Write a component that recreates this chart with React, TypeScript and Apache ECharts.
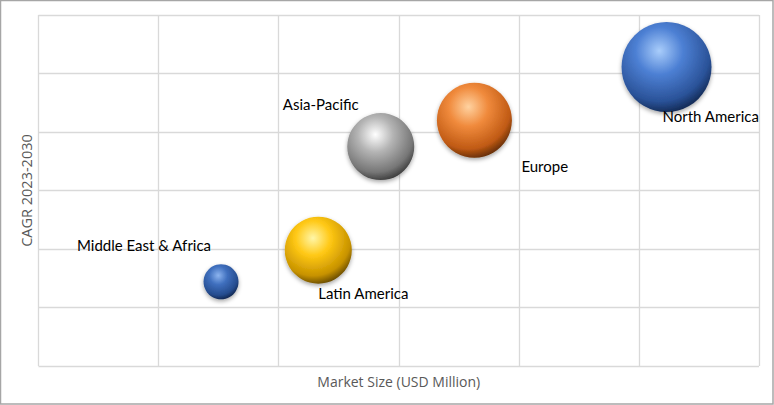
import React, { useEffect, useRef } from "react";
import * as echarts from "echarts";

const regions = ["North America", "Europe", "Asia-Pacific", "Latin America", "Middle East & Africa"];
const marketSize = [5.23, 3.63, 2.85, 2.33, 1.52];
const cagr = [5.11, 4.2, 3.75, 1.98, 1.44];
const bubbleWeight = [90, 75, 67, 67, 35];

const palette = [
  ["#a9cdfb", "#4d80d4", "#2a5298", "#0a1a3a"],
  ["#ffd2a0", "#f08a3c", "#c05a14", "#401c00"],
  ["#ffffff", "#b4b4b4", "#767676", "#262626"],
  ["#fff6a8", "#ffc814", "#c79200", "#443000"],
  ["#8cb4ef", "#3f6fbe", "#254c8e", "#0a1838"],
];
const labelOffsets = [
  [-4, 49],
  [47, 46],
  [-98, -43],
  [0, 43],
  [-144, -37],
];

export default function App() {
  const ref = useRef<HTMLDivElement>(null);
  useEffect(() => {
    document.body.style.margin = "0";
    const chart = echarts.init(ref.current!, null, { renderer: "svg" });
    const data = regions.map((name, i) => ({
      name,
      value: [marketSize[i], cagr[i], bubbleWeight[i]],
      itemStyle: {
        color: new echarts.graphic.RadialGradient(0.42, 0.32, 0.75, [
          { offset: 0, color: palette[i][0] },
          { offset: 0.35, color: palette[i][1] },
          { offset: 0.75, color: palette[i][2] },
          { offset: 1, color: palette[i][3] },
        ]),
        shadowBlur: 4,
        shadowColor: "rgba(0,0,0,0.35)",
        shadowOffsetY: 2,
        opacity: 1,
      },
      label: {
        show: true,
        position: "inside",
        align: "left",
        verticalAlign: "middle",
        offset: labelOffsets[i],
        formatter: name,
        color: "#000000",
        fontFamily: "Lato",
        fontSize: 15,
      },
    }));
    chart.setOption({
      animation: false,
      backgroundColor: "#ffffff",
      grid: { left: 38.5, right: 15, top: 15, bottom: 39, containLabel: false, outerBoundsMode: "none" },
      xAxis: {
        type: "value",
        min: 0,
        max: 6,
        interval: 1,
        name: "Market Size (USD Million)",
        nameLocation: "middle",
        nameGap: 8,
        nameTextStyle: { color: "#595959", fontFamily: "Open Sans", fontSize: 14, verticalAlign: "top" },
        axisLine: { show: false },
        axisTick: { show: false },
        axisLabel: { show: false },
        splitLine: { show: true, lineStyle: { color: "#d9d9d9", width: 1.3 } },
      },
      yAxis: {
        type: "value",
        min: 0,
        max: 6,
        interval: 1,
        name: "CAGR 2023-2030",
        nameLocation: "middle",
        nameGap: 5,
        nameTextStyle: { color: "#595959", fontFamily: "Open Sans", fontSize: 14.5, verticalAlign: "bottom" },
        axisLine: { show: false },
        axisTick: { show: false },
        axisLabel: { show: false },
        splitLine: { show: true, lineStyle: { color: "#d9d9d9", width: 1.3 } },
      },
      graphic: [
        {
          type: "rect",
          shape: { x: 0.5, y: 0.5, width: 772.5, height: 403.5 },
          style: { fill: "none", stroke: "#a6a6a6", lineWidth: 1.5 },
          silent: true,
        },
      ],
      series: [
        {
          type: "scatter",
          data,
          symbolSize: (v: number[]) => v[2],
          emphasis: { disabled: true },
        },
      ],
    });
    return () => chart.dispose();
  }, []);
  return <div ref={ref} style={{ width: 774, height: 405, position: "absolute", left: 0, top: 0 }} />;
}
